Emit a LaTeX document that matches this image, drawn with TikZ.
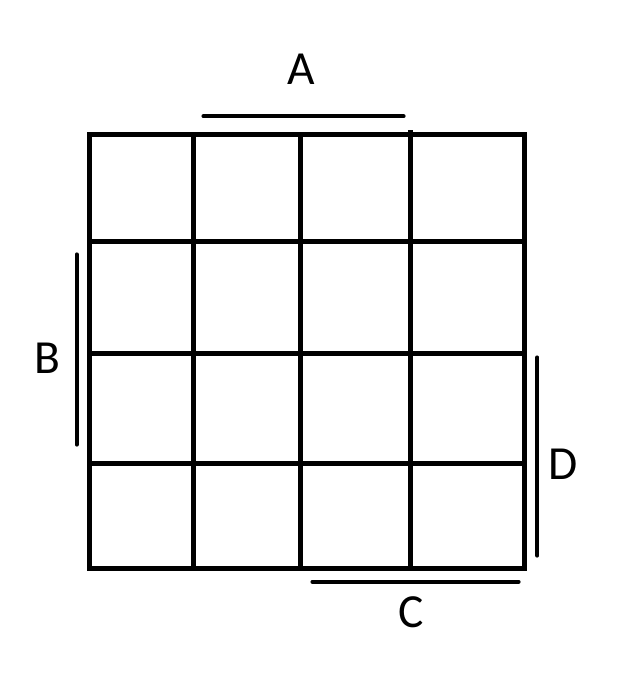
\documentclass[tikz,border=0pt]{standalone}
\usepackage{fontspec}
\setmainfont{Carlito}
\begin{document}
\begin{tikzpicture}[x=1pt,y=-1pt,
  gridline/.style={line width=5pt,line cap=rect,line join=miter},
  bar/.style={line width=4.2pt,line cap=round},
  lbl/.style={inner sep=0pt,anchor=base,font=\fontsize{47.5}{50}\selectfont}]
\useasboundingbox (0,0) rectangle (619,687);
% grid
\draw[gridline] (89.8,134.8) rectangle (524.5,568.5);
\draw[gridline] (193.5,134.8) -- (193.5,568.5);
\draw[gridline] (300.5,134.8) -- (300.5,568.5);
\draw[gridline,line cap=butt] (410,130.5) -- (410,568.5);
\draw[gridline] (89.8,241.5) -- (524.5,241.5);
\draw[gridline] (89.8,353) -- (524.5,353);
\draw[gridline] (89.8,463) -- (524.5,463);
% bars
\coordinate (a1) at (203.5,116.3);
\coordinate (a2) at (403.5,116.3);
\coordinate (b1) at (76.7,254.5);
\coordinate (b2) at (76.7,444.5);
\coordinate (d1) at (537.3,357.5);
\coordinate (d2) at (537.3,555.5);
\coordinate (c1) at (312.5,581.7);
\coordinate (c2) at (518.5,581.7);
\draw[bar] (a1) -- (a2);
\draw[bar] (b1) -- (b2);
\draw[bar] (d1) -- (d2);
\draw[bar] (c1) -- (c2);
% labels
\node[lbl] (A) at (301.3,85) {A};
\node[lbl] (B) at (47,373.3) {B};
\node[lbl] (D) at (563.3,479.3) {D};
\node[lbl] (C) at (410.8,627.6) {C};
\end{tikzpicture}
\end{document}
